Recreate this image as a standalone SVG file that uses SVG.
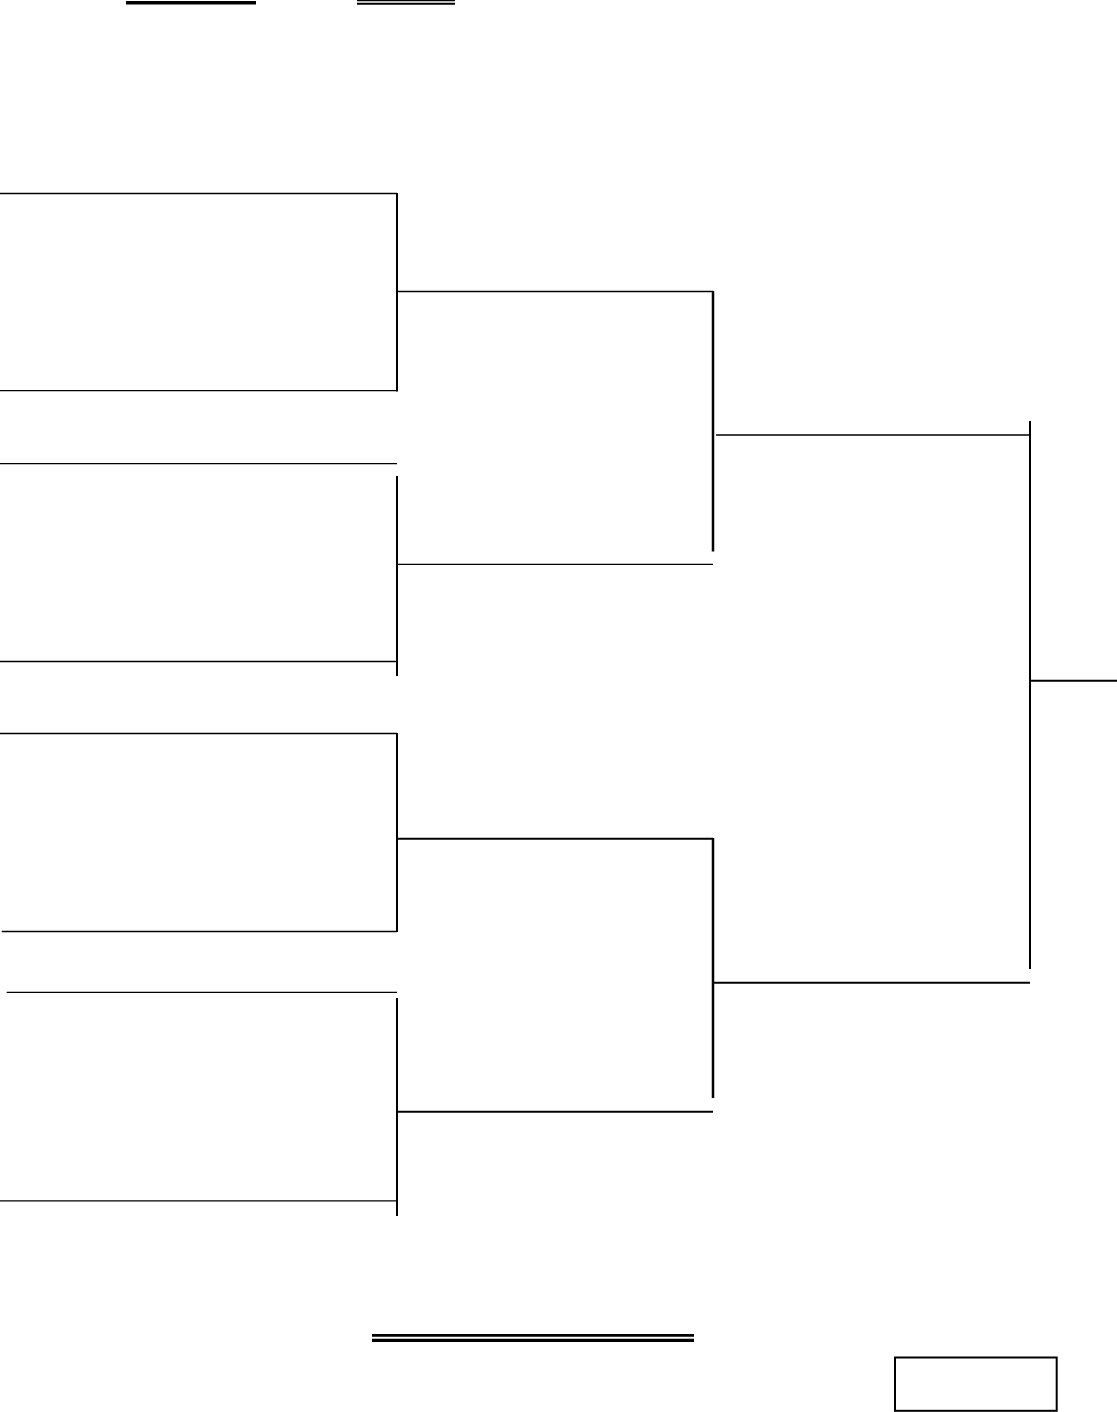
<svg xmlns="http://www.w3.org/2000/svg" width="1117" height="1412" viewBox="0 0 1117 1412">
<style>
line{stroke:#000;stroke-linecap:butt}
.t{stroke-width:1.3}
.m{stroke-width:2}
.k{stroke-width:2.5}
</style>
<rect width="1117" height="1412" fill="#fff"/>
<g id="header">
<line x1="126" y1="2.8" x2="256" y2="2.8" style="stroke-width:3.6"/>
<line x1="357" y1="0.7" x2="455" y2="0.7" class="t"/>
<line x1="357" y1="3.7" x2="455" y2="3.7" class="m"/>
</g>
<g id="round1">
<g id="m1">
<line x1="0" y1="193.5" x2="397" y2="193.5" class="t"/>
<line x1="0" y1="390.7" x2="397" y2="390.7" class="t"/>
</g>
<g id="m2">
<line x1="0" y1="463.7" x2="397" y2="463.7" class="t"/>
<line x1="0" y1="661.5" x2="397" y2="661.5" class="t"/>
</g>
<g id="m3">
<line x1="0" y1="733.5" x2="397" y2="733.5" class="t"/>
<line x1="1.7" y1="931.5" x2="397" y2="931.5" class="t"/>
</g>
<g id="m4">
<line x1="6.7" y1="992.3" x2="397" y2="992.3" class="t"/>
<line x1="0" y1="1200.8" x2="397" y2="1200.8" class="t"/>
</g>
</g>
<g id="connectors">
<line x1="397" y1="193" x2="397" y2="391.5" class="m"/>
<line x1="397" y1="476" x2="397" y2="676" class="m"/>
<line x1="397" y1="733" x2="397" y2="932" class="m"/>
<line x1="397" y1="998" x2="397" y2="1216" class="m"/>
<line x1="397" y1="291.5" x2="713" y2="291.5" class="t"/>
<line x1="397" y1="564.4" x2="713" y2="564.4" class="t"/>
<line x1="397" y1="838.7" x2="713" y2="838.7" class="m"/>
<line x1="397" y1="1111.8" x2="713" y2="1111.8" class="m"/>
<line x1="713" y1="291" x2="713" y2="551.5" class="k"/>
<line x1="713" y1="838" x2="713" y2="1098" class="k"/>
<line x1="716" y1="435" x2="1030" y2="435" class="t"/>
<line x1="713" y1="982.7" x2="1030" y2="982.7" class="m"/>
<line x1="1030" y1="421" x2="1030" y2="969" class="m"/>
<line x1="1031" y1="680.8" x2="1117" y2="680.8" class="m"/>
</g>
<g id="footer">
<line x1="372" y1="1335.3" x2="694" y2="1335.3" style="stroke-width:2.7"/>
<line x1="372" y1="1340.3" x2="694" y2="1340.3" style="stroke-width:3.3"/>
<rect id="box" x="895" y="1357.5" width="161.7" height="53.3" fill="none" stroke="#000" stroke-width="2"/>
</g>
</svg>
